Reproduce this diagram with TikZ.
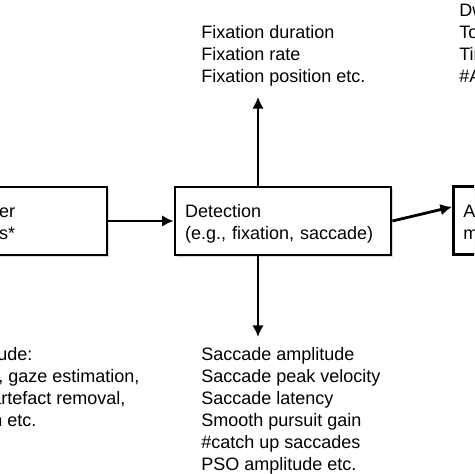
\documentclass[tikz,border=0pt]{standalone}
\usepackage{fontspec}
\setmainfont{Liberation Sans}
\usetikzlibrary{arrows.meta,shadows}

\begin{document}
\begin{tikzpicture}[x=0.5pt,y=-0.5pt,
  font=\fontsize{9pt}{11pt}\selectfont,
  box/.style={draw,line width=1.4pt,rectangle,fill=white,align=left,
    inner xsep=5pt,minimum height=34pt,execute at begin node={\rule{0pt}{9.5pt}},
    drop shadow={shadow xshift=0.8pt,shadow yshift=-0.8pt,opacity=0.3}},
  lst/.style={anchor=north west,inner sep=0pt,align=left},
  arr/.style={line width=1.4pt,-{Latex[length=5.8pt,width=5.8pt]}}]
\useasboundingbox (0,0) rectangle (474,474);
\clip (0,0) rectangle (474,474);
\node[box,text width=126.5pt] (raw) at (-29.5,221) {Output of eye tracker\\Preprocessing steps*};
\node[box,text width=98pt] (det) at (283,221) {Detection\\(e.g., fixation, saccade)};
\node[box,text width=110pt,anchor=west] (amap) at (452,220.5) {AOI\\mapping};
\node[lst] (fix) at (201,25) {Fixation duration\\Fixation rate\\Fixation position etc.};
\node[lst] (aoi) at (459,3) {Dwell time\\Total fixation duration\\Time to first fixation\\\#AOI visits etc.};
\node[lst] (sac) at (201,347) {Saccade amplitude\\Saccade peak velocity\\Saccade latency\\Smooth pursuit gain\\\#catch up saccades\\PSO amplitude etc.};
\node[lst] (pre) at (-88,347) {*Steps include:\\Calibration, gaze estimation,\\Blink and artefact removal,\\Decimation etc.};
\coordinate (up) at (258,97);
\coordinate (dn) at (258,337);
\draw[arr] (raw) -- (det);
\draw[arr] (det.east) -- ([yshift=6.8pt]amap.west);
\draw[arr] (det.north -| up) -- (up);
\draw[arr] (det.south -| dn) -- (dn);
\end{tikzpicture}
\end{document}
